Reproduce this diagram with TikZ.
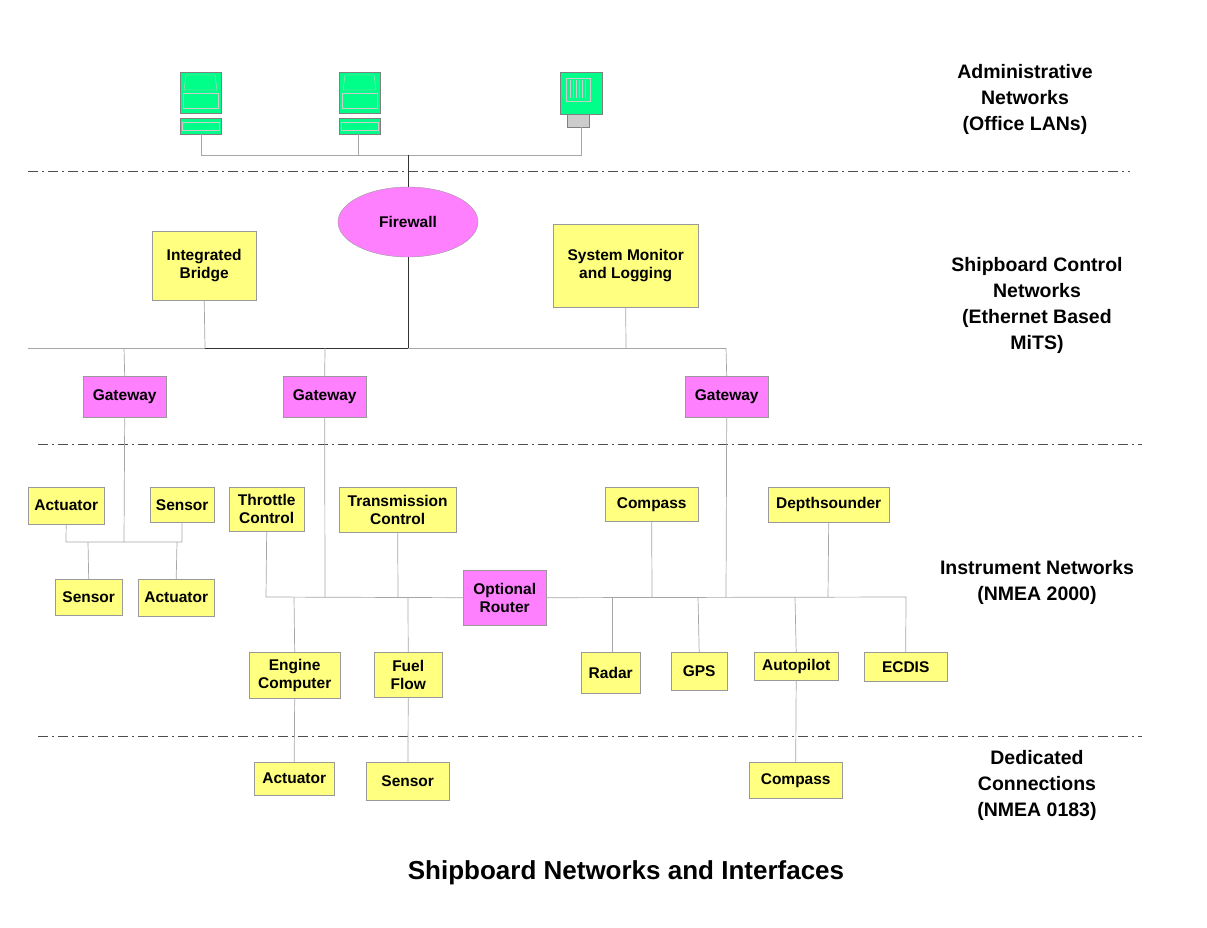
\documentclass[tikz,border=0pt]{standalone}
\usepackage{fontspec}
\setmainfont{Liberation Sans}
\usetikzlibrary{shapes.geometric}
\definecolor{ybox}{HTML}{FFFF80}
\definecolor{pbox}{HTML}{FF80FF}
\definecolor{grn}{HTML}{00FF88}
\begin{document}
\begin{tikzpicture}[x=1pt,y=-1pt,
  bx/.style={draw=gray!80,fill=ybox,font=\bfseries\fontsize{15.5}{18}\selectfont,align=center,inner sep=0pt,anchor=north west},
  pk/.style={bx,fill=pbox},
  ln/.style={draw=gray!70,line width=0.7pt},
  dk/.style={draw=black!80,line width=0.9pt},
  sep/.style={draw=black!70,line width=0.7pt,dash pattern=on 10pt off 4pt on 2pt off 4pt},
  lab/.style={font=\bfseries\fontsize{19.5}{26}\selectfont,align=center}]
\useasboundingbox (0,0) rectangle (1207,927);
\newcommand{\bbox}[7]{\node[#1,minimum width={#5-#3},minimum height={#6-#4}] (#2) at (#3,#4) {#7};}
% icons
\foreach \x in {180,339}{
  \draw[gray,fill=grn] (\x,72) rectangle ++(41,41);
  \draw[white!60!gray] ({\x+6},75) -- ({\x+35},75) -- ({\x+37},90) -- ({\x+4},90) -- cycle;
  \draw[white!60!gray] ({\x+3},93) rectangle ({\x+38},108);
  \draw[gray,fill=grn] (\x,118) rectangle ++(41,16);
  \draw[white!60!gray] ({\x+2},122) rectangle ({\x+39},130);
}
\draw[gray,fill=grn] (560,72) rectangle (602,114);
\draw[white!60!gray] (566,78) rectangle (590,101);
\foreach \i in {0,...,5} \draw[white!60!gray] ({570+\i*3},80) -- ({570+\i*3},98);
\draw[gray,fill=gray!40] (567,114) rectangle (589,127);
\coordinate (i1) at (201,134); \coordinate (i2) at (358,134); \coordinate (i3) at (581,127);
% separators
\draw[sep] (28,171) -- (1130,171);
\draw[sep] (38,444) -- (1142,444);
\draw[sep] (38,736) -- (1142,736);
% nodes
\node[ellipse,draw=gray!80,fill=pbox,minimum width=140,minimum height=70,font=\bfseries\fontsize{15.5}{18}\selectfont] (fw) at (408,222) {Firewall};
\bbox{bx}{ib}{152}{231}{256}{300}{Integrated\\Bridge}
\bbox{bx}{sm}{553}{224}{698}{307}{System Monitor\\and Logging}
\bbox{pk}{g1}{83}{376}{166}{417}{Gateway}
\bbox{pk}{g2}{283}{376}{366}{417}{Gateway}
\bbox{pk}{g3}{685}{376}{768}{417}{Gateway}
\bbox{bx}{a1}{28}{487}{104}{524}{Actuator}
\bbox{bx}{s1}{150}{487}{214}{522}{Sensor}
\bbox{bx}{tc}{229}{487}{304}{531}{Throttle\\Control}
\bbox{bx}{tr}{339}{487}{456}{532}{Transmission\\Control}
\bbox{bx}{cp}{605}{487}{698}{521}{Compass}
\bbox{bx}{ds}{768}{487}{889}{522}{Depthsounder}
\bbox{bx}{s2}{55}{579}{122}{615}{Sensor}
\bbox{bx}{a2}{138}{579}{214}{616}{Actuator}
\bbox{pk}{rt}{463}{570}{546}{625}{Optional\\Router}
\bbox{bx}{ec}{249}{652}{340}{698}{Engine\\Computer}
\bbox{bx}{ff}{374}{652}{442}{697}{Fuel\\Flow}
\bbox{bx}{rd}{581}{652}{640}{693}{Radar}
\bbox{bx}{gp}{671}{652}{727}{690}{GPS}
\bbox{bx}{ap}{754}{652}{838}{680}{Autopilot}
\bbox{bx}{ed}{864}{652}{947}{681}{ECDIS}
\bbox{bx}{a3}{254}{762}{334}{795}{Actuator}
\bbox{bx}{s3}{366}{762}{449}{800}{Sensor}
\bbox{bx}{c2}{749}{762}{842}{798}{Compass}
% admin lines
\draw[ln] (i1) -- (201,155) -- (581,155) -- (i3);
\draw[ln] (i2) -- (358,155);
\draw[dk] (408,155) -- (fw.north);
% control bus
\draw[ln] (28,348) -- (726,348);
\draw[dk] (fw.south) -- (408,348);
\draw[dk] (205,348) -- (408,348);
\draw[ln] (ib.south) -- (205,348);
\draw[ln] (sm.south) -- (626,348);
\draw[ln] (124,348) -- (g1.north);
\draw[ln] (325,348) -- (g2.north);
\draw[ln] (726,348) -- (g3.north);
% left cluster
\draw[ln] (g1.south) -- (124,542);
\draw[ln] (a1.south) -- (66,542) -- (182,542) -- (182,522);
\draw[ln] (88,542) -- (s2.north);
\draw[ln] (177,542) -- (a2.north);
% instrument bus
\draw[ln] (tc.south) -- (266,597) -- (rt.west);
\draw[ln] (rt.east) -- (906,597) -- (ed.north);
\draw[ln] (g2.south) -- (325,597);
\draw[ln] (tr.south) -- (398,597);
\draw[ln] (294,597) -- (ec.north);
\draw[ln] (408,597) -- (ff.north);
\draw[ln] (612,597) -- (612,652);
\draw[ln] (698,597) -- (gp.north);
\draw[ln] (795,597) -- (ap.north);
\draw[ln] (cp.south) -- (652,597);
\draw[ln] (ds.south) -- (828,597);
\draw[ln] (g3.south) -- (726,597);
% dedicated
\draw[ln] (ec.south) -- (a3.north);
\draw[ln] (ff.south) -- (408,762);
\draw[ln] (ap.south) -- (c2.north);
% labels
\node[lab] (l1) at (1025,99) {Administrative\\Networks\\(Office LANs)};
\node[lab] (l2) at (1037,305) {Shipboard Control\\Networks\\(Ethernet Based\\MiTS)};
\node[lab] (l3) at (1037,582) {Instrument Networks\\(NMEA 2000)};
\node[lab] (l4) at (1037,785) {Dedicated\\Connections\\(NMEA 0183)};
\node[font=\bfseries\fontsize{26}{30}\selectfont] (title) at (626,873) {Shipboard Networks and Interfaces};
\end{tikzpicture}
\end{document}
